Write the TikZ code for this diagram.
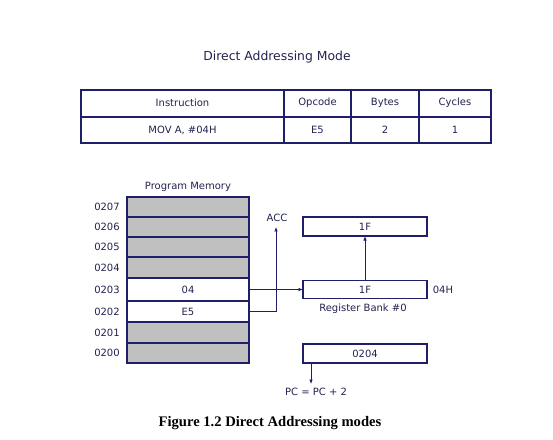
\documentclass[tikz,border=0pt]{standalone}
\usepackage{fontspec}
\setmainfont{DejaVu Sans}
\newfontfamily\capfont{Liberation Serif}
\usetikzlibrary{arrows.meta}
\definecolor{navy}{RGB}{30,30,105}
\definecolor{txt}{RGB}{35,35,80}
\definecolor{memgrey}{RGB}{192,192,192}
\begin{document}
\begin{tikzpicture}[x=1pt,y=-1pt,
  every node/.style={font=\fontsize{10}{12}\selectfont, text=txt, inner sep=0pt},
  frame/.style={draw=navy, line width=1.6pt},
  memrow/.style={frame, minimum width=122pt, anchor=north west, outer sep=0pt},
  regbox/.style={draw=navy, line width=1.3pt, minimum width=124pt, outer sep=0pt},
  conn/.style={draw=navy, line width=0.7pt},
  arr/.style={conn, -{Latex[length=4.5pt,width=3.5pt]}}
]
\useasboundingbox (0,0) rectangle (553,439);
\fill[white] (0,0) rectangle (553,439);

% title
\node[font=\fontsize{12.4}{14}\selectfont] (title) at (277,57) {Direct Addressing Mode};

% table
\draw[frame] (81,90) rectangle (491,143);
\draw[frame] (81,117) -- (491,117);
\draw[frame] (284,90) -- (284,143);
\draw[frame] (351,90) -- (351,143);
\draw[frame] (419,90) -- (419,143);
\node (h1) at (182.5,103) {Instruction};
\node (h2) at (317.5,103) {Opcode};
\node (h3) at (385,103) {Bytes};
\node (h4) at (455,103) {Cycles};
\node (c1) at (182.5,130) {MOV A, \#04H};
\node (c2) at (317.5,130) {E5};
\node (c3) at (385,130) {2};
\node (c4) at (455,130) {1};

% program memory
\node (pmt) at (188,187) {Program Memory};
\node[memrow, fill=memgrey, minimum height=20pt] (m207) at (127,197) {};
\node[memrow, fill=memgrey, minimum height=20pt] (m206) at (127,217) {};
\node[memrow, fill=memgrey, minimum height=20pt] (m205) at (127,237) {};
\node[memrow, fill=memgrey, minimum height=21pt] (m204) at (127,257) {};
\node[memrow, fill=white, minimum height=23pt] (m203) at (127,278) {};
\node[memrow, fill=white, minimum height=21pt] (m202) at (127,301) {};
\node[memrow, fill=memgrey, minimum height=21pt] (m201) at (127,322) {};
\node[memrow, fill=memgrey, minimum height=20pt] (m200) at (127,343) {};
\node (v203) at (m203.center) {04};
\node (v202) at (m202.center) {E5};

\node (a207) at (107,207) {0207};
\node (a206) at (107,227) {0206};
\node (a205) at (107,247) {0205};
\node (a204) at (107,267.5) {0204};
\node (a203) at (107,289.5) {0203};
\node (a202) at (107,311.5) {0202};
\node (a201) at (107,332.5) {0201};
\node (a200) at (107,353) {0200};

% right side
\node (acc) at (277,218) {ACC};
\node[regbox, minimum height=19pt] (top) at (365,226.5) {1F};
\node[regbox, minimum height=18.5pt] (rb) at (365,289.5) {1F};
\node (addr) at (443,289.5) {04H};
\node (rbl) at (363,308.5) {Register Bank \#0};
\node[regbox, minimum height=19pt] (pc) at (365,353.5) {0204};
\node (pceq) at (316,392) {PC = PC + 2};

% connectors
\draw[arr] (m203.east) -- (rb.west);
\coordinate (j) at (276,311.5);
\draw[arr, shorten >=5pt] (m202.east) -- (j) -- (j |- acc.south);
\draw[arr] (rb.north) -- (top.south);
\coordinate (pcs) at (311,363);
\draw[arr, shorten >=4pt] (pcs) -- (pcs |- pceq.north);

% caption
\node[font=\capfont\bfseries\fontsize{14.6}{17}\selectfont, text=black] (cap) at (270,423) {Figure 1.2 Direct Addressing modes};
\end{tikzpicture}
\end{document}
